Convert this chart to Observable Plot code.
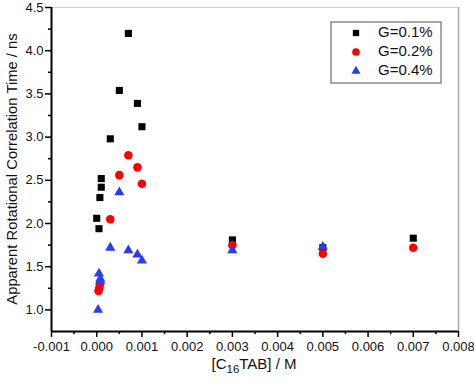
<!DOCTYPE html>
<html>
<head>
<meta charset="utf-8">
<script src="https://cdn.jsdelivr.net/npm/d3@7"></script>
<script src="https://cdn.jsdelivr.net/npm/@observablehq/plot@0.6"></script>
<style>
  html, body { margin: 0; padding: 0; background: #fff; }
  #chart { position: relative; width: 474px; height: 383px; }
</style>
</head>
<body>
<div id="chart"></div>
<script>
// ---- data ----
const seriesLabels = ["G=0.1%", "G=0.2%", "G=0.4%"];
const seriesColors = ["#000000", "#ff0000", "#2a3cf0"];
const seriesSymbols = ["square", "circle", "triangle"];

const concG01 = [0, 0.00005, 0.00007, 0.0001, 0.0001, 0.0003, 0.0005, 0.0007, 0.0009, 0.001, 0.003, 0.005, 0.007];
const tauG01  = [2.06, 1.94, 2.30, 2.42, 2.52, 2.98, 3.54, 4.20, 3.39, 3.12, 1.81, 1.72, 1.83];

const concG02 = [0.00004, 0.00006, 0.00007, 0.0003, 0.0005, 0.0007, 0.0009, 0.001, 0.003, 0.005, 0.007];
const tauG02  = [1.22, 1.26, 1.30, 2.05, 2.56, 2.79, 2.65, 2.46, 1.75, 1.65, 1.72];

const concG04 = [0.00003, 0.00008, 0.00008, 0.00005, 0.0003, 0.0005, 0.0007, 0.0009, 0.001, 0.003, 0.005];
const tauG04  = [1.00, 1.33, 1.36, 1.42, 1.72, 2.36, 1.69, 1.64, 1.57, 1.69, 1.73];

const xTicks = [-0.001, 0, 0.001, 0.002, 0.003, 0.004, 0.005, 0.006, 0.007, 0.008];
const xMinorTicks = [-0.0005, 0.0005, 0.0015, 0.0025, 0.0035, 0.0045, 0.0055, 0.0065, 0.0075];
const yTicks = [1.0, 1.5, 2.0, 2.5, 3.0, 3.5, 4.0, 4.5];
const yMinorTicks = [1.25, 1.75, 2.25, 2.75, 3.25, 3.75, 4.25];
const xDomain = [-0.001, 0.008];
const yDomain = [0.75, 4.5];
const xTitleMain = "[C";
const xTitleSub = "16";
const xTitleRest = "TAB] / M";
const yTitle = "Apparent Rotational Correlation Time / ns";

// ---- build tables ----
const toRows = (xs, ys, s) => xs.map((x, i) => ({x, y: ys[i], s}));
const rows = [toRows(concG01, tauG01, 0), toRows(concG02, tauG02, 1), toRows(concG04, tauG04, 2)];
const sizes = [4, 4.3, 3.8];

const font = "'Liberation Sans', Arial, sans-serif";

const svg = Plot.plot({
  width: 474,
  height: 383,
  marginLeft: 51,
  marginRight: 16,
  marginTop: 7,
  marginBottom: 52,
  x: {domain: xDomain},
  y: {domain: yDomain},
  style: {fontFamily: font, fontSize: "13px", color: "#000", background: "#fff"},
  marks: [
    Plot.ruleY([yDomain[1]], {stroke: "#cfcfcf", strokeWidth: 1.2}),
    Plot.ruleX([xDomain[1]], {stroke: "#a8a8a8", strokeWidth: 1.5}),
    Plot.axisX({ticks: xTicks, tickSize: 6, tickPadding: 4, strokeWidth: 1.5, tickFormat: d => d.toFixed(3), label: null, fill: "#111"}),
    Plot.axisX({ticks: xMinorTicks, tickSize: 3, strokeWidth: 1.5, tickFormat: () => "", label: null}),
    Plot.axisY({ticks: yTicks, tickSize: 6, tickPadding: 2, strokeWidth: 1.5, tickFormat: d => d.toFixed(1), label: null, fill: "#111"}),
    Plot.axisY({ticks: yMinorTicks, tickSize: 3, strokeWidth: 1.5, tickFormat: () => "", label: null}),
    Plot.ruleX([xDomain[0]], {stroke: "#000", strokeWidth: 2}),
    Plot.ruleY([yDomain[0]], {stroke: "#000", strokeWidth: 2}),
    ...rows.map((data, i) => Plot.dot(data, {
      x: "x", y: "y",
      symbol: () => seriesSymbols[i],
      r: sizes[i],
      fill: seriesColors[i],
      stroke: "none"
    }))
  ]
});

const container = document.getElementById("chart");
container.appendChild(svg);

const root = d3.select(svg);

// x-axis title with subscript
const xt = root.append("text")
  .attr("x", 254).attr("y", 369)
  .attr("text-anchor", "middle")
  .attr("font-family", font)
  .attr("font-size", 15)
  .attr("fill", "#111");
xt.append("tspan").text(xTitleMain);
xt.append("tspan").attr("font-size", 11.5).attr("dy", 4).text(xTitleSub);
xt.append("tspan").attr("dy", -4).text(xTitleRest);

// y-axis title
root.append("text")
  .attr("transform", "translate(13,169) rotate(-90)")
  .attr("text-anchor", "middle")
  .attr("dominant-baseline", "middle")
  .attr("font-family", font)
  .attr("font-size", 14.8)
  .attr("fill", "#111")
  .text(yTitle);

// legend
const lg = root.append("g").attr("transform", "translate(331,22)");
lg.append("rect").attr("width", 110).attr("height", 61)
  .attr("fill", "#fff").attr("stroke", "#8c8c8c").attr("stroke-width", 1.5);
const symMap = {square: d3.symbolSquare, circle: d3.symbolCircle, triangle: d3.symbolTriangle};
seriesLabels.forEach((lab, i) => {
  const yy = 11 + i * 19;
  lg.append("path")
    .attr("transform", `translate(25,${yy})`)
    .attr("d", d3.symbol(symMap[seriesSymbols[i]], Math.PI * sizes[i] * sizes[i] * 0.8)())
    .attr("fill", seriesColors[i]);
  lg.append("text")
    .attr("x", 47).attr("y", yy)
    .attr("text-anchor", "start")
    .attr("dominant-baseline", "middle")
    .attr("font-family", font)
    .attr("font-size", 15)
    .attr("fill", "#111")
    .text(lab);
});
</script>
</body>
</html>
